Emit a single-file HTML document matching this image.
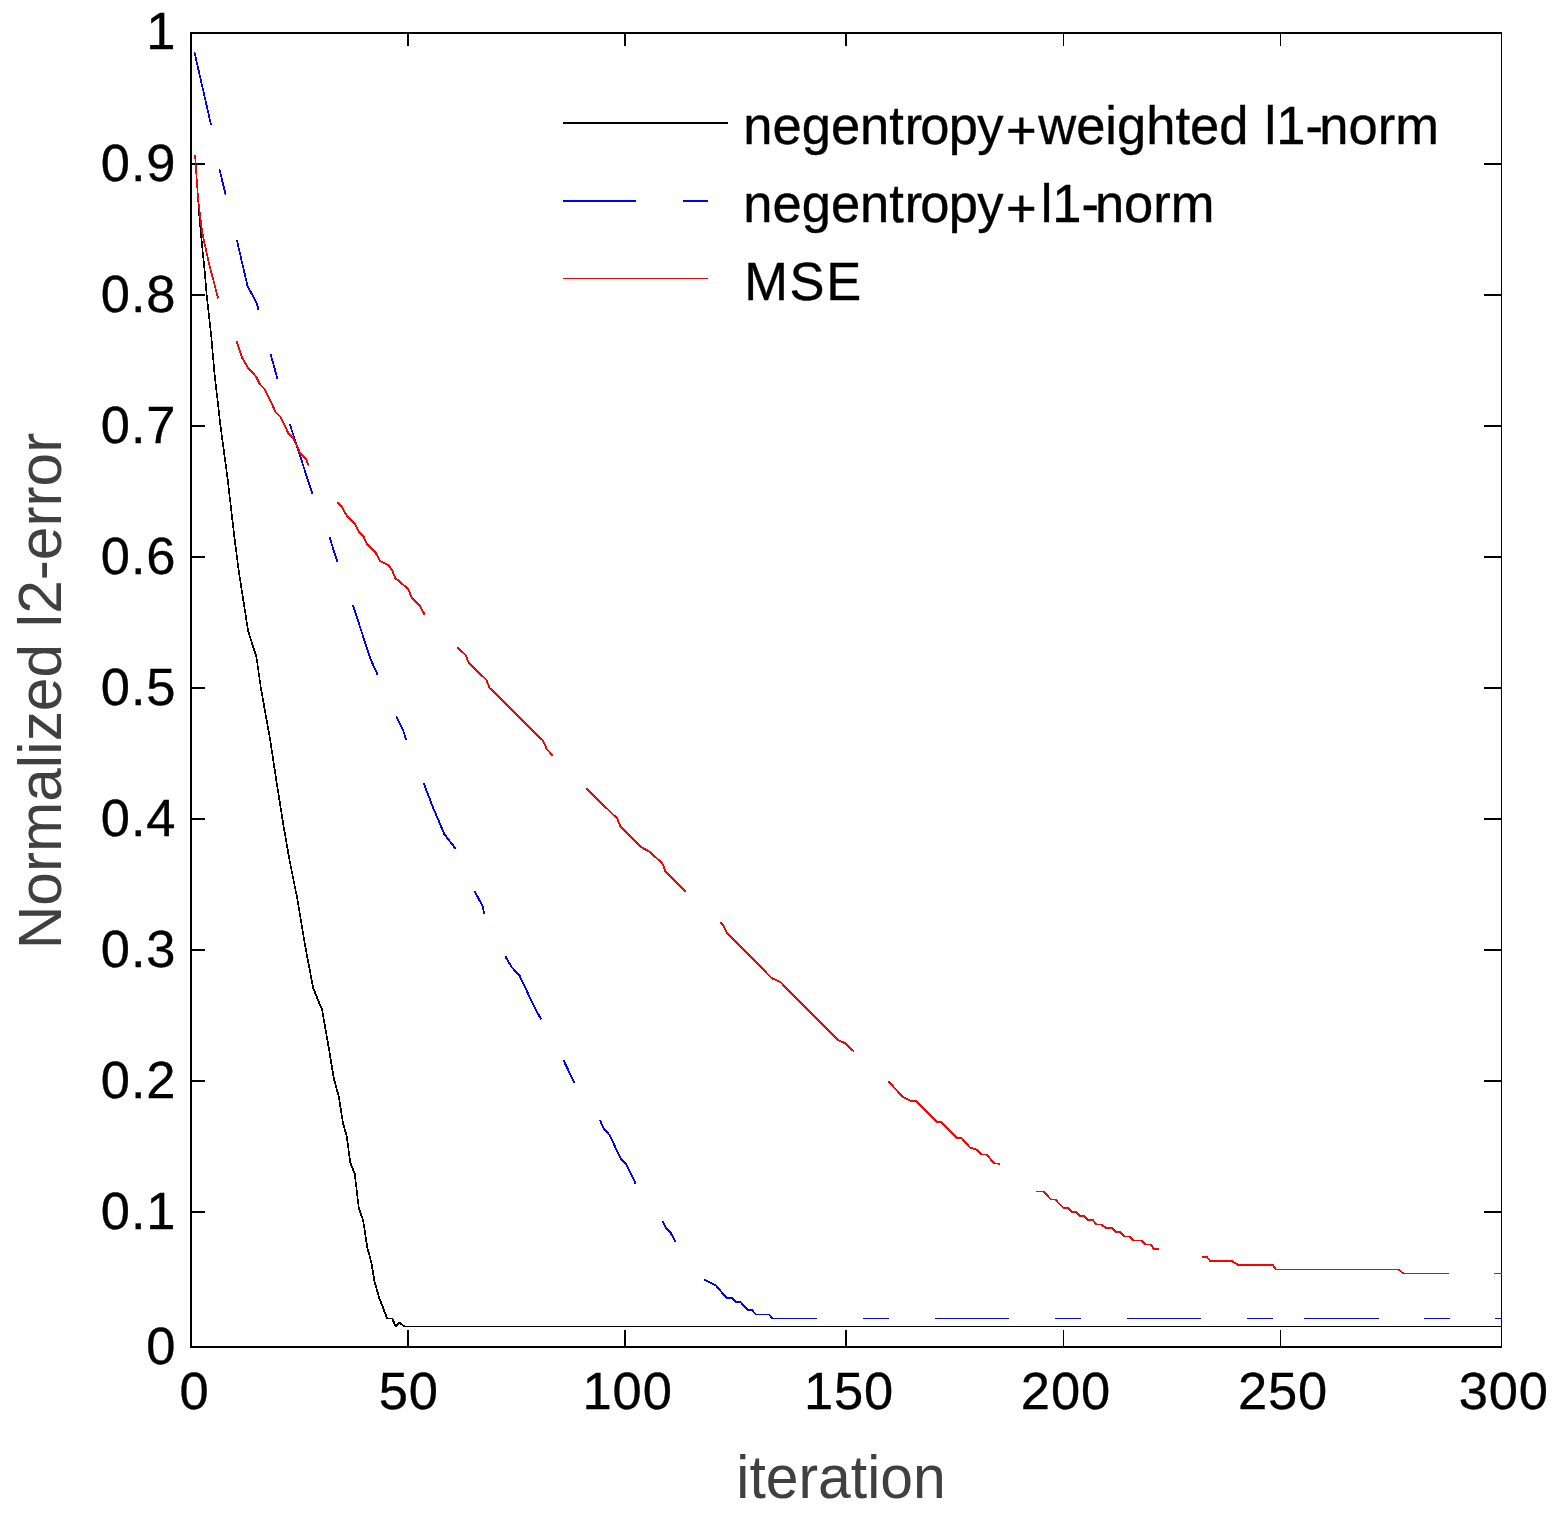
<!DOCTYPE html>
<html lang="en"><head><meta charset="utf-8"><title>Normalized l2-error vs iteration</title>
<style>
html,body{margin:0;padding:0;background:#fff;}
body{width:1553px;height:1521px;overflow:hidden;}
svg{display:block;}
text{font-family:"Liberation Sans",sans-serif;font-kerning:none;font-variant-ligatures:none;}
.tk{font-size:52.5px;fill:#000;stroke:#000;stroke-width:0.35px;}
.nm{letter-spacing:0.85px;}
.lb{font-size:60px;fill:#404040;}
.ln{fill:none;stroke-linejoin:round;stroke-linecap:butt;}
</style></head><body>
<svg width="1553" height="1521" viewBox="0 0 1553 1521">
<rect x="0" y="0" width="1553" height="1521" fill="#fff"/>
<g shape-rendering="crispEdges" fill="#000" stroke="none">
<rect x="190" y="32" width="2" height="1316"/>
<rect x="190" y="32" width="1312" height="2"/>
<rect x="1501" y="32" width="1" height="1316"/>
<rect x="190" y="1346" width="1312" height="2"/>
<rect x="192" y="163" width="13" height="2"/>
<rect x="1484" y="163" width="17" height="2"/>
<rect x="192" y="294" width="13" height="2"/>
<rect x="1484" y="294" width="17" height="2"/>
<rect x="192" y="425" width="13" height="2"/>
<rect x="1484" y="425" width="17" height="2"/>
<rect x="192" y="556" width="13" height="2"/>
<rect x="1484" y="556" width="17" height="2"/>
<rect x="192" y="687" width="13" height="2"/>
<rect x="1484" y="687" width="17" height="2"/>
<rect x="192" y="818" width="13" height="2"/>
<rect x="1484" y="818" width="17" height="2"/>
<rect x="192" y="949" width="13" height="2"/>
<rect x="1484" y="949" width="17" height="2"/>
<rect x="192" y="1080" width="13" height="2"/>
<rect x="1484" y="1080" width="17" height="2"/>
<rect x="192" y="1211" width="13" height="2"/>
<rect x="1484" y="1211" width="17" height="2"/>
<rect x="407" y="1330" width="2" height="16"/>
<rect x="407" y="34" width="2" height="12"/>
<rect x="624" y="1330" width="2" height="16"/>
<rect x="624" y="34" width="2" height="12"/>
<rect x="845" y="1330" width="2" height="16"/>
<rect x="845" y="34" width="2" height="12"/>
<rect x="1063" y="1330" width="1" height="16"/>
<rect x="1063" y="34" width="1" height="12"/>
<rect x="1280" y="1330" width="1" height="16"/>
<rect x="1280" y="34" width="1" height="12"/>
</g>
<g shape-rendering="crispEdges" stroke="none">
<path fill="#000" d="M197 201h1v1h-1zM198 209h1v7h-1zM199 218h1v8h-1zM199 226h2v1h-2zM200 227h1v6h-1zM200 233h2v5h-2zM201 238h1v3h-1zM201 241h2v7h-2zM202 248h1v4h-1zM202 252h2v6h-2zM203 258h1v3h-1zM203 261h2v7h-2zM204 268h1v3h-1zM204 271h2v8h-2zM205 279h1v4h-1zM205 283h2v8h-2zM206 291h1v4h-1zM206 295h2v6h-2zM207 301h1v3h-1zM207 304h2v6h-2zM208 310h1v3h-1zM208 313h2v6h-2zM209 319h1v3h-1zM209 322h2v6h-2zM210 328h1v3h-1zM210 331h2v6h-2zM211 337h1v4h-1zM211 341h2v8h-2zM212 349h1v4h-1zM212 353h2v7h-2zM213 360h1v4h-1zM213 364h2v8h-2zM214 372h1v3h-1zM214 375h2v6h-2zM215 381h1v3h-1zM215 384h2v6h-2zM216 390h1v3h-1zM216 393h2v5h-2zM217 398h1v3h-1zM217 401h2v6h-2zM218 407h1v3h-1zM218 410h2v6h-2zM219 416h1v3h-1zM219 419h2v6h-2zM220 425h1v2h-1zM220 427h2v5h-2zM221 432h1v3h-1zM221 435h2v5h-2zM222 440h1v2h-1zM222 442h2v5h-2zM223 447h1v2h-1zM223 449h2v6h-2zM224 455h1v2h-1zM224 457h2v5h-2zM225 462h1v2h-1zM225 464h2v5h-2zM226 469h1v3h-1zM226 472h2v5h-2zM227 477h1v2h-1zM227 479h2v6h-2zM228 485h1v3h-1zM228 488h2v6h-2zM229 494h1v3h-1zM229 497h2v5h-2zM230 502h1v3h-1zM230 505h2v6h-2zM231 511h1v3h-1zM231 514h2v6h-2zM232 520h1v2h-1zM232 522h2v6h-2zM233 528h1v3h-1zM233 531h2v6h-2zM234 537h1v2h-1zM234 539h2v6h-2zM235 545h1v2h-1zM235 547h2v5h-2zM236 552h1v3h-1zM236 555h2v5h-2zM237 560h1v3h-1zM237 563h2v5h-2zM238 568h1v2h-1zM238 570h2v5h-2zM239 575h1v2h-1zM239 577h2v4h-2zM240 581h1v2h-1zM240 583h2v5h-2zM241 588h1v2h-1zM241 590h2v4h-2zM242 594h1v2h-1zM242 596h2v5h-2zM243 601h1v1h-1zM243 602h2v5h-2zM244 607h1v2h-1zM244 609h2v4h-2zM245 613h1v2h-1zM245 615h2v5h-2zM246 620h1v2h-1zM246 622h2v4h-2zM247 626h1v2h-1zM247 628h2v4h-2zM248 632h2v3h-2zM249 635h1v1h-1zM249 636h2v2h-2zM250 638h1v1h-1zM250 639h2v2h-2zM251 641h1v1h-1zM251 642h2v3h-2zM252 645h2v3h-2zM253 648h2v3h-2zM254 651h2v3h-2zM255 654h2v3h-2zM256 657h1v2h-1zM256 659h2v4h-2zM257 663h1v3h-1zM257 666h2v4h-2zM258 670h1v3h-1zM258 673h2v4h-2zM259 677h1v3h-1zM259 680h2v4h-2zM260 684h1v3h-1zM260 687h2v4h-2zM261 691h1v1h-1zM261 692h2v4h-2zM262 696h1v2h-1zM262 698h2v4h-2zM263 702h1v1h-1zM263 703h2v5h-2zM264 708h1v1h-1zM264 709h2v4h-2zM265 713h1v2h-1zM265 715h2v4h-2zM266 719h1v1h-1zM266 720h2v4h-2zM267 724h1v2h-1zM267 726h2v4h-2zM268 730h1v1h-1zM268 731h2v4h-2zM269 735h1v2h-1zM269 737h2v4h-2zM270 741h1v2h-1zM270 743h2v5h-2zM271 748h1v2h-1zM271 750h2v4h-2zM272 754h1v2h-1zM272 756h2v5h-2zM273 761h1v2h-1zM273 763h2v5h-2zM274 768h1v1h-1zM274 769h2v5h-2zM275 774h1v2h-1zM275 776h2v5h-2zM276 781h1v2h-1zM276 783h2v4h-2zM277 787h1v2h-1zM277 789h2v4h-2zM278 793h1v2h-1zM278 795h2v5h-2zM279 800h1v1h-1zM279 801h2v5h-2zM280 806h1v2h-1zM280 808h2v4h-2zM281 812h1v2h-1zM281 814h2v5h-2zM282 819h1v1h-1zM282 820h2v5h-2zM283 825h1v2h-1zM283 827h2v4h-2zM284 831h1v1h-1zM284 832h2v4h-2zM285 836h1v2h-1zM285 838h2v4h-2zM286 842h1v2h-1zM286 844h2v4h-2zM287 848h1v1h-1zM287 849h2v5h-2zM288 854h1v1h-1zM288 855h2v4h-2zM289 859h1v2h-1zM289 861h2v3h-2zM290 864h1v2h-1zM290 866h2v3h-2zM291 869h1v2h-1zM291 871h2v3h-2zM292 874h1v2h-1zM292 876h2v3h-2zM293 879h1v2h-1zM293 881h2v3h-2zM294 884h1v2h-1zM294 886h2v3h-2zM295 889h1v2h-1zM295 891h2v3h-2zM296 894h1v1h-1zM296 895h2v4h-2zM297 899h1v2h-1zM297 901h2v4h-2zM298 905h1v2h-1zM298 907h2v4h-2zM299 911h1v2h-1zM299 913h2v4h-2zM300 917h1v2h-1zM300 919h2v4h-2zM301 923h1v2h-1zM301 925h2v4h-2zM302 929h1v2h-1zM302 931h2v4h-2zM303 935h1v2h-1zM303 937h2v4h-2zM304 941h1v2h-1zM304 943h2v4h-2zM305 947h1v1h-1zM305 948h2v4h-2zM306 952h1v2h-1zM306 954h2v4h-2zM307 958h1v1h-1zM307 959h2v4h-2zM308 963h1v1h-1zM308 964h2v4h-2zM309 968h1v1h-1zM309 969h2v4h-2zM310 973h1v2h-1zM310 975h2v4h-2zM311 979h1v1h-1zM311 980h2v4h-2zM312 984h1v1h-1zM312 985h2v4h-2zM313 989h2v2h-2zM314 991h2v3h-2zM315 994h2v2h-2zM316 996h2v3h-2zM317 999h2v2h-2zM318 1001h2v3h-2zM319 1004h2v2h-2zM320 1006h2v2h-2zM321 1008h2v3h-2zM322 1011h1v2h-1zM322 1013h2v4h-2zM323 1017h1v2h-1zM323 1019h2v4h-2zM324 1023h1v1h-1zM324 1024h2v5h-2zM325 1029h1v1h-1zM325 1030h2v4h-2zM326 1034h1v2h-1zM326 1036h2v4h-2zM327 1040h1v1h-1zM327 1041h2v5h-2zM328 1046h1v1h-1zM328 1047h2v4h-2zM329 1051h1v2h-1zM329 1053h2v5h-2zM330 1058h1v1h-1zM330 1059h2v5h-2zM331 1064h1v1h-1zM331 1065h2v5h-2zM332 1070h1v1h-1zM332 1071h2v5h-2zM333 1076h1v1h-1zM333 1077h2v4h-2zM334 1081h2v3h-2zM335 1084h1v1h-1zM335 1085h2v3h-2zM336 1088h1v1h-1zM336 1089h2v3h-2zM337 1092h2v3h-2zM338 1095h1v1h-1zM338 1096h2v4h-2zM339 1100h1v2h-1zM339 1102h2v5h-2zM340 1107h1v1h-1zM340 1108h2v5h-2zM341 1113h1v2h-1zM341 1115h2v4h-2zM342 1119h1v2h-1zM342 1121h2v4h-2zM343 1125h2v3h-2zM344 1128h1v1h-1zM344 1129h2v3h-2zM345 1132h2v3h-2zM346 1135h1v1h-1zM346 1136h2v5h-2zM347 1141h1v2h-1zM347 1143h2v5h-2zM348 1148h1v3h-1zM348 1151h2v5h-2zM349 1156h1v2h-1zM349 1158h2v5h-2zM350 1163h2v3h-2zM351 1166h2v2h-2zM352 1168h2v3h-2zM353 1171h2v2h-2zM354 1173h2v6h-2zM355 1179h1v3h-1zM355 1182h2v5h-2zM356 1187h1v3h-1zM356 1190h2v6h-2zM357 1196h1v3h-1zM357 1199h2v5h-2zM358 1204h1v3h-1zM358 1207h2v3h-2zM359 1210h2v3h-2zM360 1213h2v3h-2zM361 1216h2v2h-2zM362 1218h1v1h-1zM362 1219h2v3h-2zM363 1222h1v2h-1zM363 1224h2v4h-2zM364 1228h1v2h-1zM364 1230h2v5h-2zM365 1235h1v2h-1zM365 1237h2v5h-2zM366 1242h1v1h-1zM366 1243h2v5h-2zM367 1248h1v1h-1zM367 1249h2v3h-2zM368 1252h2v3h-2zM369 1255h1v1h-1zM369 1256h2v3h-2zM370 1259h1v1h-1zM370 1260h2v3h-2zM371 1263h1v1h-1zM371 1264h2v5h-2zM372 1269h1v1h-1zM372 1270h2v5h-2zM373 1275h1v1h-1zM373 1276h2v5h-2zM374 1281h1v1h-1zM374 1282h2v3h-2zM375 1285h2v3h-2zM376 1288h1v1h-1zM376 1289h2v3h-2zM377 1292h2v3h-2zM378 1295h1v1h-1zM378 1296h2v3h-2zM379 1299h2v2h-2zM380 1301h2v3h-2zM381 1304h2v2h-2zM382 1306h2v3h-2zM383 1309h2v3h-2zM384 1312h2v2h-2zM385 1314h2v3h-2zM386 1317h2v1h-2zM386 1318h7v1h-7zM392 1319h2v2h-2zM392 1321h3v1h-3zM398 1322h3v1h-3zM393 1322h2v2h-2zM397 1323h5v1h-5zM394 1324h5v1h-5zM400 1324h3v1h-3zM394 1325h4v1h-4zM402 1325h3v1h-3zM403 1326h1099v1h-1099zM395 1326h2v1h-2z"/>
<path fill="#00f" d="M194 52h1v1h-1zM194 53h2v3h-2zM195 56h1v1h-1zM195 57h2v4h-2zM196 61h1v1h-1zM196 62h2v3h-2zM197 65h1v1h-1zM197 66h2v4h-2zM198 70h2v4h-2zM199 74h1v1h-1zM199 75h2v3h-2zM200 78h1v1h-1zM200 79h2v4h-2zM201 83h1v1h-1zM201 84h2v3h-2zM202 87h1v1h-1zM202 88h2v3h-2zM203 91h1v1h-1zM203 92h2v4h-2zM204 96h1v1h-1zM204 97h2v3h-2zM205 100h1v1h-1zM205 101h2v4h-2zM206 105h2v4h-2zM207 109h1v1h-1zM207 110h2v3h-2zM208 113h1v1h-1zM208 114h2v4h-2zM209 118h1v1h-1zM209 119h2v3h-2zM210 122h1v1h-1zM210 123h2v2h-2zM219 169h1v1h-1zM219 170h2v3h-2zM220 173h1v1h-1zM220 174h2v3h-2zM221 177h1v1h-1zM221 178h2v4h-2zM222 182h2v4h-2zM223 186h2v4h-2zM224 190h2v4h-2zM225 194h1v1h-1zM236 240h2v2h-2zM237 242h1v1h-1zM237 243h2v4h-2zM238 247h1v1h-1zM238 248h2v3h-2zM239 251h1v1h-1zM239 252h2v3h-2zM240 255h1v1h-1zM240 256h2v4h-2zM241 260h1v1h-1zM241 261h2v3h-2zM242 264h1v1h-1zM242 265h2v3h-2zM243 268h1v1h-1zM243 269h2v4h-2zM244 273h2v4h-2zM245 277h1v1h-1zM245 278h2v3h-2zM246 281h1v1h-1zM246 282h2v4h-2zM247 286h2v2h-2zM248 288h2v2h-2zM249 290h2v1h-2zM249 291h3v1h-3zM250 292h2v1h-2zM250 293h3v1h-3zM251 294h2v1h-2zM252 295h2v2h-2zM253 297h2v2h-2zM254 299h2v2h-2zM255 301h2v2h-2zM256 303h2v3h-2zM257 306h2v4h-2zM270 354h2v3h-2zM271 357h1v1h-1zM271 358h2v3h-2zM272 361h2v3h-2zM273 364h1v1h-1zM273 365h2v3h-2zM274 368h2v4h-2zM275 372h2v3h-2zM276 375h1v1h-1zM276 376h2v3h-2zM289 424h2v2h-2zM290 426h2v3h-2zM291 429h1v1h-1zM291 430h2v2h-2zM292 432h1v1h-1zM292 433h2v2h-2zM293 435h1v1h-1zM293 436h2v1h-2zM294 437h1v2h-1zM295 439h1v2h-1zM296 442h1v1h-1zM296 447h1v1h-1zM297 450h1v1h-1zM298 452h1v2h-1zM299 454h1v1h-1zM299 455h2v2h-2zM300 457h2v3h-2zM301 460h2v3h-2zM302 463h1v1h-1zM302 464h2v2h-2zM303 466h1v1h-1zM303 467h2v2h-2zM304 469h1v1h-1zM304 470h2v3h-2zM305 473h2v3h-2zM306 476h2v3h-2zM307 479h2v3h-2zM308 482h2v3h-2zM309 485h2v3h-2zM310 488h2v3h-2zM311 491h2v3h-2zM329 537h2v3h-2zM330 540h2v3h-2zM331 543h1v1h-1zM331 544h2v2h-2zM332 546h1v1h-1zM332 547h2v3h-2zM333 550h2v3h-2zM334 553h2v3h-2zM335 556h2v3h-2zM336 559h2v3h-2zM352 605h2v2h-2zM353 607h2v3h-2zM354 610h2v3h-2zM355 613h2v3h-2zM356 616h2v3h-2zM357 619h2v3h-2zM358 622h2v3h-2zM359 625h1v1h-1zM359 626h2v2h-2zM360 628h1v1h-1zM360 629h2v2h-2zM361 631h1v1h-1zM361 632h2v2h-2zM362 634h1v1h-1zM362 635h2v3h-2zM363 638h2v3h-2zM364 641h2v3h-2zM365 644h2v3h-2zM366 647h2v3h-2zM367 650h2v3h-2zM368 653h2v3h-2zM369 656h2v3h-2zM370 659h2v2h-2zM371 661h2v2h-2zM371 663h3v1h-3zM372 664h2v2h-2zM373 666h2v2h-2zM374 668h2v2h-2zM375 670h2v2h-2zM376 672h2v3h-2zM396 716h1v1h-1zM396 717h2v2h-2zM397 719h2v2h-2zM398 721h2v2h-2zM399 723h2v2h-2zM400 725h2v2h-2zM401 727h2v2h-2zM402 729h2v2h-2zM403 731h1v1h-1zM403 732h2v2h-2zM404 734h1v1h-1zM404 735h2v3h-2zM405 738h2v2h-2zM423 783h2v2h-2zM424 785h2v3h-2zM425 788h2v3h-2zM426 791h2v2h-2zM427 793h2v3h-2zM428 796h2v2h-2zM429 798h2v3h-2zM430 801h2v3h-2zM431 804h2v2h-2zM432 806h2v3h-2zM433 809h2v2h-2zM434 811h2v2h-2zM435 813h2v3h-2zM436 816h2v2h-2zM437 818h2v2h-2zM438 820h2v3h-2zM439 823h2v2h-2zM440 825h2v2h-2zM440 827h3v1h-3zM441 828h2v2h-2zM442 830h2v2h-2zM443 832h2v2h-2zM443 834h3v1h-3zM444 835h3v1h-3zM445 836h2v1h-2zM446 837h2v1h-2zM446 838h3v1h-3zM447 839h3v1h-3zM448 840h2v1h-2zM449 841h2v1h-2zM450 842h2v1h-2zM450 843h3v1h-3zM451 844h3v1h-3zM452 845h2v1h-2zM453 846h2v1h-2zM453 847h3v1h-3zM454 848h2v1h-2zM474 891h2v2h-2zM475 893h2v2h-2zM476 895h2v1h-2zM476 896h3v1h-3zM477 897h2v1h-2zM477 898h3v1h-3zM478 899h2v1h-2zM478 900h3v1h-3zM479 901h2v1h-2zM480 902h2v2h-2zM481 904h2v2h-2zM482 906h2v4h-2zM483 910h1v1h-1zM483 911h2v3h-2zM505 956h2v2h-2zM505 958h3v1h-3zM506 959h2v1h-2zM507 960h2v2h-2zM508 962h2v1h-2zM508 963h3v1h-3zM509 964h2v1h-2zM510 965h2v2h-2zM511 967h2v1h-2zM512 968h2v1h-2zM513 969h2v1h-2zM513 970h3v1h-3zM514 971h3v1h-3zM515 972h3v1h-3zM516 973h3v1h-3zM517 974h3v1h-3zM518 975h3v1h-3zM519 976h2v2h-2zM520 978h2v2h-2zM521 980h2v2h-2zM522 982h2v2h-2zM523 984h2v2h-2zM524 986h2v2h-2zM525 988h2v2h-2zM526 990h2v2h-2zM526 992h3v1h-3zM527 993h2v2h-2zM528 995h2v2h-2zM529 997h2v2h-2zM530 999h2v2h-2zM531 1001h2v2h-2zM532 1003h2v2h-2zM533 1005h2v2h-2zM534 1007h2v2h-2zM535 1009h2v2h-2zM536 1011h2v2h-2zM537 1013h2v1h-2zM537 1014h3v1h-3zM538 1015h2v1h-2zM538 1016h3v1h-3zM539 1017h2v1h-2zM540 1018h2v1h-2zM540 1019h1v1h-1zM563 1060h2v2h-2zM564 1062h2v2h-2zM564 1064h3v1h-3zM565 1065h2v1h-2zM565 1066h3v1h-3zM566 1067h2v1h-2zM566 1068h3v1h-3zM567 1069h2v2h-2zM568 1071h2v2h-2zM569 1073h2v2h-2zM570 1075h2v2h-2zM571 1077h2v2h-2zM572 1079h2v2h-2zM573 1081h2v2h-2zM599 1120h2v1h-2zM600 1121h2v3h-2zM601 1124h2v2h-2zM602 1126h2v2h-2zM603 1128h2v1h-2zM603 1129h3v1h-3zM604 1130h3v1h-3zM605 1131h3v1h-3zM606 1132h3v1h-3zM607 1133h2v1h-2zM608 1134h2v1h-2zM609 1135h2v2h-2zM610 1137h2v2h-2zM611 1139h2v2h-2zM612 1141h2v2h-2zM613 1143h2v2h-2zM613 1145h3v1h-3zM614 1146h2v2h-2zM615 1148h2v2h-2zM616 1150h2v2h-2zM617 1152h2v2h-2zM618 1154h2v2h-2zM619 1156h2v2h-2zM620 1158h2v1h-2zM620 1159h3v1h-3zM621 1160h3v1h-3zM622 1161h3v1h-3zM623 1162h3v1h-3zM624 1163h3v1h-3zM625 1164h2v1h-2zM626 1165h2v2h-2zM627 1167h2v2h-2zM628 1169h2v2h-2zM629 1171h2v2h-2zM630 1173h2v2h-2zM631 1175h2v2h-2zM632 1177h2v2h-2zM633 1179h2v2h-2zM634 1181h2v3h-2zM662 1221h2v2h-2zM663 1223h2v2h-2zM664 1225h2v2h-2zM665 1227h2v1h-2zM665 1228h3v1h-3zM666 1229h3v1h-3zM667 1230h3v1h-3zM668 1231h3v1h-3zM669 1232h3v1h-3zM670 1233h2v1h-2zM670 1234h3v1h-3zM671 1235h2v1h-2zM672 1236h2v2h-2zM673 1238h2v2h-2zM674 1240h2v2h-2zM704 1279h2v1h-2zM704 1280h4v1h-4zM706 1281h4v1h-4zM708 1282h4v1h-4zM710 1283h4v1h-4zM712 1284h4v1h-4zM714 1285h3v1h-3zM716 1286h2v1h-2zM716 1287h3v1h-3zM717 1288h3v1h-3zM718 1289h3v1h-3zM719 1290h2v1h-2zM720 1291h2v1h-2zM721 1292h2v1h-2zM721 1293h3v1h-3zM722 1294h3v1h-3zM723 1295h3v1h-3zM724 1296h3v1h-3zM725 1297h8v1h-8zM726 1298h8v1h-8zM732 1299h3v1h-3zM733 1300h3v1h-3zM734 1301h7v1h-7zM735 1302h7v1h-7zM741 1303h2v1h-2zM741 1304h3v1h-3zM742 1305h3v1h-3zM743 1306h3v1h-3zM744 1307h3v1h-3zM745 1308h3v1h-3zM746 1309h7v1h-7zM747 1310h7v1h-7zM752 1311h2v1h-2zM753 1312h2v1h-2zM754 1313h2v1h-2zM755 1314h15v1h-15zM769 1315h2v1h-2zM770 1316h2v1h-2zM770 1317h3v1h-3zM1424 1318h26v1h-26zM1304 1318h75v1h-75zM1055 1318h26v1h-26zM935 1318h74v1h-74zM771 1318h46v1h-46zM1247 1318h26v1h-26zM1127 1318h74v1h-74zM1495 1318h7v1h-7zM863 1318h26v1h-26z"/>
<path fill="#f00" d="M194 155h2v4h-2zM195 159h1v6h-1zM195 165h2v9h-2zM196 174h1v5h-1zM196 179h2v9h-2zM197 188h1v5h-1zM197 193h2v8h-2zM198 201h1v3h-1zM198 204h2v5h-2zM199 209h1v3h-1zM199 212h2v6h-2zM200 218h1v2h-1zM200 220h2v6h-2zM201 226h1v2h-1zM201 228h2v5h-2zM202 233h1v1h-1zM202 234h2v4h-2zM203 238h1v1h-1zM203 239h2v4h-2zM204 243h1v1h-1zM204 244h2v3h-2zM205 247h1v1h-1zM205 248h2v4h-2zM206 252h1v1h-1zM206 253h2v3h-2zM207 256h1v1h-1zM207 257h2v4h-2zM208 261h1v1h-1zM208 262h2v3h-2zM209 265h1v1h-1zM209 266h2v3h-2zM210 269h1v1h-1zM210 270h2v3h-2zM211 273h2v4h-2zM212 277h2v3h-2zM213 280h1v1h-1zM213 281h2v3h-2zM214 284h1v1h-1zM214 285h2v3h-2zM215 288h1v1h-1zM215 289h2v3h-2zM216 292h1v1h-1zM216 293h2v3h-2zM217 296h2v2h-2zM217 298h1v1h-1zM236 341h2v3h-2zM237 344h2v3h-2zM238 347h2v3h-2zM239 350h2v3h-2zM240 353h2v3h-2zM241 356h2v2h-2zM241 358h3v1h-3zM242 359h2v1h-2zM243 360h2v2h-2zM244 362h2v1h-2zM244 363h3v1h-3zM245 364h2v1h-2zM246 365h2v2h-2zM247 367h2v1h-2zM247 368h3v1h-3zM248 369h3v1h-3zM249 370h3v1h-3zM250 371h3v1h-3zM251 372h3v1h-3zM252 373h3v1h-3zM253 374h2v1h-2zM254 375h2v1h-2zM255 376h2v1h-2zM255 377h3v1h-3zM256 378h2v1h-2zM256 379h3v1h-3zM257 380h2v1h-2zM257 381h3v1h-3zM258 382h2v1h-2zM258 383h3v1h-3zM259 384h2v1h-2zM260 385h2v1h-2zM261 386h2v1h-2zM262 387h2v1h-2zM263 388h2v1h-2zM264 389h2v2h-2zM265 391h2v2h-2zM266 393h2v2h-2zM267 395h2v2h-2zM268 397h2v2h-2zM269 399h2v2h-2zM270 401h2v2h-2zM271 403h2v2h-2zM272 405h2v2h-2zM272 407h3v1h-3zM273 408h2v2h-2zM274 410h2v2h-2zM275 412h2v1h-2zM276 413h2v1h-2zM277 414h2v1h-2zM278 415h2v1h-2zM279 416h2v1h-2zM280 417h2v2h-2zM281 419h2v2h-2zM282 421h2v2h-2zM283 423h2v2h-2zM284 425h2v2h-2zM285 427h2v2h-2zM286 429h2v2h-2zM286 431h3v1h-3zM287 432h2v1h-2zM287 433h3v1h-3zM288 434h3v1h-3zM289 435h3v1h-3zM290 436h3v1h-3zM291 437h3v1h-3zM292 438h2v1h-2zM293 439h2v2h-2zM294 441h2v2h-2zM295 443h2v2h-2zM296 445h2v2h-2zM297 447h2v2h-2zM297 449h3v1h-3zM298 450h2v2h-2zM299 452h2v1h-2zM299 453h3v1h-3zM300 454h3v1h-3zM301 455h3v1h-3zM302 456h3v1h-3zM303 457h3v1h-3zM304 458h3v1h-3zM305 459h2v1h-2zM306 460h2v3h-2zM307 463h2v2h-2zM308 465h1v1h-1zM337 502h2v1h-2zM337 503h3v1h-3zM338 504h3v1h-3zM339 505h3v1h-3zM340 506h3v1h-3zM341 507h2v1h-2zM342 508h2v2h-2zM343 510h2v2h-2zM344 512h2v1h-2zM344 513h3v1h-3zM345 514h2v1h-2zM346 515h2v1h-2zM346 516h3v1h-3zM347 517h3v1h-3zM348 518h3v1h-3zM349 519h3v1h-3zM350 520h3v1h-3zM351 521h3v1h-3zM352 522h3v1h-3zM353 523h3v1h-3zM354 524h2v1h-2zM355 525h2v2h-2zM356 527h2v2h-2zM357 529h2v2h-2zM358 531h2v1h-2zM358 532h3v1h-3zM359 533h3v1h-3zM360 534h3v1h-3zM361 535h3v1h-3zM362 536h3v1h-3zM363 537h2v2h-2zM364 539h2v2h-2zM365 541h2v2h-2zM366 543h2v1h-2zM366 544h3v1h-3zM367 545h3v1h-3zM368 546h3v1h-3zM369 547h3v1h-3zM370 548h3v1h-3zM371 549h3v1h-3zM372 550h3v1h-3zM373 551h3v1h-3zM374 552h3v1h-3zM375 553h2v1h-2zM375 554h3v1h-3zM376 555h2v1h-2zM377 556h2v2h-2zM378 558h2v2h-2zM379 560h2v1h-2zM379 561h4v1h-4zM381 562h4v1h-4zM383 563h4v1h-4zM385 564h4v1h-4zM387 565h3v1h-3zM388 566h3v1h-3zM389 567h2v1h-2zM390 568h2v1h-2zM390 569h3v1h-3zM391 570h2v1h-2zM392 571h2v3h-2zM393 574h2v2h-2zM394 576h2v2h-2zM394 578h3v1h-3zM395 579h4v1h-4zM397 580h3v1h-3zM398 581h3v1h-3zM399 582h3v1h-3zM400 583h3v1h-3zM401 584h3v1h-3zM403 585h3v1h-3zM404 586h3v1h-3zM405 587h3v1h-3zM406 588h3v1h-3zM407 589h2v1h-2zM408 590h2v2h-2zM409 592h2v3h-2zM410 595h2v2h-2zM411 597h2v1h-2zM411 598h3v1h-3zM412 599h3v1h-3zM413 600h3v1h-3zM414 601h3v1h-3zM415 602h3v1h-3zM416 603h3v1h-3zM417 604h3v1h-3zM418 605h3v1h-3zM419 606h2v1h-2zM420 607h2v2h-2zM421 609h2v2h-2zM422 611h2v1h-2zM422 612h3v1h-3zM423 613h2v2h-2zM457 647h2v1h-2zM457 648h3v1h-3zM458 649h3v1h-3zM459 650h3v1h-3zM460 651h3v1h-3zM461 652h3v1h-3zM463 653h2v1h-2zM464 654h2v1h-2zM465 655h2v2h-2zM466 657h2v3h-2zM467 660h2v2h-2zM468 662h2v1h-2zM468 663h3v1h-3zM469 664h3v1h-3zM470 665h3v1h-3zM471 666h3v1h-3zM472 667h3v1h-3zM473 668h3v1h-3zM474 669h3v1h-3zM475 670h3v1h-3zM476 671h3v1h-3zM477 672h3v1h-3zM478 673h3v1h-3zM479 674h3v1h-3zM480 675h3v1h-3zM481 676h3v1h-3zM483 677h2v1h-2zM484 678h2v1h-2zM485 679h2v1h-2zM486 680h2v3h-2zM487 683h2v2h-2zM488 685h2v3h-2zM489 688h3v1h-3zM490 689h3v1h-3zM491 690h3v1h-3zM492 691h3v1h-3zM493 692h3v1h-3zM494 693h3v1h-3zM495 694h3v1h-3zM496 695h3v1h-3zM497 696h3v1h-3zM498 697h3v1h-3zM499 698h3v1h-3zM500 699h3v1h-3zM501 700h3v1h-3zM502 701h3v1h-3zM503 702h3v1h-3zM504 703h3v1h-3zM505 704h3v1h-3zM506 705h3v1h-3zM507 706h3v1h-3zM508 707h3v1h-3zM509 708h3v1h-3zM510 709h3v1h-3zM511 710h3v1h-3zM512 711h3v1h-3zM513 712h3v1h-3zM514 713h3v1h-3zM515 714h3v1h-3zM516 715h3v1h-3zM517 716h3v1h-3zM518 717h3v1h-3zM519 718h3v1h-3zM520 719h3v1h-3zM521 720h3v1h-3zM522 721h3v1h-3zM523 722h3v1h-3zM524 723h3v1h-3zM525 724h3v1h-3zM526 725h3v1h-3zM527 726h3v1h-3zM528 727h3v1h-3zM529 728h3v1h-3zM530 729h3v1h-3zM531 730h3v1h-3zM532 731h3v1h-3zM533 732h3v1h-3zM534 733h3v1h-3zM535 734h3v1h-3zM536 735h3v1h-3zM537 736h3v1h-3zM538 737h3v1h-3zM539 738h3v1h-3zM540 739h3v1h-3zM542 740h2v2h-2zM543 742h2v2h-2zM544 744h2v2h-2zM545 746h2v3h-2zM546 749h2v1h-2zM547 750h2v1h-2zM548 751h2v1h-2zM549 752h2v1h-2zM549 753h3v1h-3zM550 754h3v1h-3zM551 755h2v1h-2zM586 788h2v1h-2zM586 789h3v1h-3zM587 790h3v1h-3zM588 791h3v1h-3zM589 792h3v1h-3zM590 793h3v1h-3zM591 794h3v1h-3zM592 795h3v1h-3zM593 796h3v1h-3zM594 797h3v1h-3zM595 798h3v1h-3zM596 799h3v1h-3zM597 800h3v1h-3zM598 801h3v1h-3zM599 802h3v1h-3zM600 803h3v1h-3zM601 804h3v1h-3zM602 805h3v1h-3zM603 806h3v1h-3zM604 807h3v1h-3zM605 808h3v1h-3zM607 809h2v1h-2zM608 810h2v1h-2zM609 811h2v1h-2zM610 812h2v1h-2zM611 813h2v1h-2zM612 814h2v1h-2zM613 815h3v1h-3zM614 816h3v1h-3zM615 817h3v1h-3zM616 818h2v1h-2zM617 819h2v3h-2zM618 822h2v2h-2zM619 824h2v2h-2zM619 826h3v1h-3zM620 827h3v1h-3zM621 828h3v1h-3zM622 829h3v1h-3zM623 830h3v1h-3zM624 831h3v1h-3zM625 832h3v1h-3zM626 833h3v1h-3zM627 834h3v1h-3zM628 835h3v1h-3zM629 836h3v1h-3zM630 837h3v1h-3zM631 838h3v1h-3zM632 839h3v1h-3zM633 840h3v1h-3zM634 841h3v1h-3zM635 842h3v1h-3zM636 843h3v1h-3zM637 844h3v1h-3zM638 845h3v1h-3zM639 846h3v1h-3zM640 847h4v1h-4zM642 848h4v1h-4zM643 849h5v1h-5zM645 850h4v1h-4zM647 851h4v1h-4zM649 852h3v1h-3zM650 853h3v1h-3zM651 854h3v1h-3zM652 855h3v1h-3zM653 856h3v1h-3zM654 857h3v1h-3zM656 858h2v1h-2zM657 859h3v1h-3zM658 860h3v1h-3zM659 861h3v1h-3zM660 862h3v1h-3zM661 863h2v1h-2zM662 864h2v2h-2zM663 866h2v3h-2zM664 869h2v2h-2zM664 871h3v1h-3zM665 872h3v1h-3zM666 873h3v1h-3zM667 874h3v1h-3zM668 875h3v1h-3zM669 876h3v1h-3zM670 877h3v1h-3zM671 878h3v1h-3zM672 879h3v1h-3zM673 880h3v1h-3zM674 881h3v1h-3zM675 882h3v1h-3zM676 883h3v1h-3zM677 884h3v1h-3zM678 885h3v1h-3zM679 886h3v1h-3zM680 887h3v1h-3zM681 888h3v1h-3zM682 889h3v1h-3zM683 890h3v1h-3zM684 891h2v1h-2zM720 922h2v1h-2zM720 923h3v1h-3zM721 924h3v1h-3zM722 925h2v1h-2zM723 926h2v2h-2zM724 928h2v2h-2zM725 930h2v2h-2zM726 932h2v1h-2zM726 933h3v1h-3zM727 934h3v1h-3zM728 935h3v1h-3zM729 936h3v1h-3zM730 937h3v1h-3zM731 938h3v1h-3zM732 939h3v1h-3zM733 940h3v1h-3zM734 941h3v1h-3zM735 942h3v1h-3zM736 943h3v1h-3zM737 944h3v1h-3zM738 945h3v1h-3zM739 946h3v1h-3zM740 947h3v1h-3zM741 948h3v1h-3zM742 949h3v1h-3zM743 950h3v1h-3zM744 951h3v1h-3zM745 952h3v1h-3zM746 953h3v1h-3zM747 954h3v1h-3zM748 955h3v1h-3zM749 956h3v1h-3zM750 957h3v1h-3zM751 958h3v1h-3zM752 959h3v1h-3zM753 960h3v1h-3zM754 961h3v1h-3zM755 962h3v1h-3zM756 963h3v1h-3zM757 964h3v1h-3zM758 965h3v1h-3zM759 966h3v1h-3zM760 967h3v1h-3zM761 968h3v1h-3zM762 969h3v1h-3zM763 970h3v1h-3zM764 971h3v1h-3zM765 972h2v1h-2zM766 973h2v1h-2zM767 974h2v1h-2zM768 975h2v1h-2zM769 976h2v1h-2zM770 977h3v1h-3zM771 978h4v1h-4zM772 979h5v1h-5zM775 980h4v1h-4zM777 981h4v1h-4zM779 982h3v1h-3zM781 983h2v1h-2zM782 984h2v1h-2zM782 985h3v1h-3zM783 986h3v1h-3zM784 987h3v1h-3zM785 988h3v1h-3zM786 989h3v1h-3zM787 990h3v1h-3zM788 991h3v1h-3zM789 992h3v1h-3zM790 993h3v1h-3zM791 994h3v1h-3zM792 995h3v1h-3zM793 996h3v1h-3zM794 997h3v1h-3zM795 998h3v1h-3zM796 999h3v1h-3zM797 1000h3v1h-3zM798 1001h3v1h-3zM799 1002h3v1h-3zM800 1003h3v1h-3zM801 1004h3v1h-3zM802 1005h3v1h-3zM803 1006h3v1h-3zM804 1007h3v1h-3zM805 1008h3v1h-3zM806 1009h3v1h-3zM807 1010h3v1h-3zM808 1011h3v1h-3zM809 1012h3v1h-3zM810 1013h3v1h-3zM811 1014h3v1h-3zM812 1015h3v1h-3zM813 1016h3v1h-3zM814 1017h3v1h-3zM815 1018h3v1h-3zM816 1019h3v1h-3zM817 1020h3v1h-3zM818 1021h3v1h-3zM819 1022h3v1h-3zM820 1023h3v1h-3zM821 1024h3v1h-3zM822 1025h3v1h-3zM823 1026h3v1h-3zM824 1027h3v1h-3zM825 1028h3v1h-3zM826 1029h3v1h-3zM827 1030h3v1h-3zM828 1031h3v1h-3zM829 1032h3v1h-3zM830 1033h3v1h-3zM831 1034h3v1h-3zM832 1035h3v1h-3zM833 1036h3v1h-3zM834 1037h3v1h-3zM835 1038h3v1h-3zM836 1039h3v1h-3zM837 1040h4v1h-4zM839 1041h5v1h-5zM841 1042h5v1h-5zM843 1043h4v1h-4zM845 1044h3v1h-3zM846 1045h3v1h-3zM847 1046h3v1h-3zM848 1047h3v1h-3zM849 1048h3v1h-3zM850 1049h3v1h-3zM851 1050h3v1h-3zM853 1051h1v1h-1zM888 1081h2v1h-2zM888 1082h3v1h-3zM889 1083h3v1h-3zM890 1084h3v1h-3zM891 1085h3v1h-3zM892 1086h2v1h-2zM893 1087h2v1h-2zM894 1088h2v1h-2zM895 1089h2v1h-2zM896 1090h2v1h-2zM897 1091h2v1h-2zM897 1092h3v1h-3zM898 1093h3v1h-3zM899 1094h3v1h-3zM900 1095h3v1h-3zM901 1096h3v1h-3zM902 1097h4v1h-4zM904 1098h4v1h-4zM906 1099h4v1h-4zM908 1100h9v1h-9zM910 1101h8v1h-8zM916 1102h3v1h-3zM917 1103h3v1h-3zM918 1104h3v1h-3zM919 1105h3v1h-3zM920 1106h3v1h-3zM921 1107h3v1h-3zM922 1108h3v1h-3zM923 1109h3v1h-3zM924 1110h3v1h-3zM925 1111h3v1h-3zM926 1112h3v1h-3zM927 1113h3v1h-3zM928 1114h3v1h-3zM929 1115h3v1h-3zM930 1116h3v1h-3zM931 1117h3v1h-3zM932 1118h3v1h-3zM933 1119h3v1h-3zM934 1120h3v1h-3zM935 1121h7v1h-7zM936 1122h7v1h-7zM941 1123h3v1h-3zM942 1124h3v1h-3zM943 1125h3v1h-3zM944 1126h3v1h-3zM945 1127h3v1h-3zM946 1128h3v1h-3zM947 1129h3v1h-3zM948 1130h3v1h-3zM949 1131h3v1h-3zM950 1132h3v1h-3zM951 1133h3v1h-3zM952 1134h3v1h-3zM953 1135h3v1h-3zM954 1136h3v1h-3zM955 1137h7v1h-7zM956 1138h7v1h-7zM962 1139h2v1h-2zM962 1140h3v1h-3zM963 1141h3v1h-3zM964 1142h3v1h-3zM965 1143h3v1h-3zM966 1144h3v1h-3zM967 1145h2v1h-2zM968 1146h2v1h-2zM969 1147h4v1h-4zM970 1148h6v1h-6zM973 1149h5v1h-5zM976 1150h3v1h-3zM977 1151h3v1h-3zM978 1152h3v1h-3zM979 1153h3v1h-3zM980 1154h8v1h-8zM986 1155h3v1h-3zM987 1156h3v1h-3zM988 1157h2v1h-2zM989 1158h2v1h-2zM990 1159h2v1h-2zM990 1160h3v1h-3zM991 1161h3v1h-3zM992 1162h3v1h-3zM993 1163h7v1h-7zM998 1164h2v1h-2zM1036 1191h9v1h-9zM1043 1192h3v1h-3zM1044 1193h3v1h-3zM1045 1194h3v1h-3zM1046 1195h3v1h-3zM1047 1196h2v1h-2zM1048 1197h2v1h-2zM1049 1198h2v1h-2zM1050 1199h7v1h-7zM1055 1200h3v1h-3zM1056 1201h2v1h-2zM1057 1202h2v1h-2zM1058 1203h2v1h-2zM1059 1204h2v1h-2zM1060 1205h2v1h-2zM1061 1206h2v1h-2zM1062 1207h7v1h-7zM1063 1208h7v1h-7zM1068 1209h3v1h-3zM1069 1210h3v1h-3zM1070 1211h7v1h-7zM1071 1212h7v1h-7zM1076 1213h3v1h-3zM1077 1214h3v1h-3zM1078 1215h7v1h-7zM1079 1216h7v1h-7zM1084 1217h3v1h-3zM1085 1218h3v1h-3zM1086 1219h8v1h-8zM1087 1220h7v1h-7zM1093 1221h2v1h-2zM1094 1222h2v1h-2zM1094 1223h3v1h-3zM1095 1224h8v1h-8zM1101 1225h3v1h-3zM1102 1226h4v1h-4zM1104 1227h9v1h-9zM1105 1228h9v1h-9zM1112 1229h3v1h-3zM1113 1230h3v1h-3zM1114 1231h7v1h-7zM1115 1232h7v1h-7zM1120 1233h3v1h-3zM1121 1234h3v1h-3zM1122 1235h3v1h-3zM1123 1236h8v1h-8zM1129 1237h3v1h-3zM1130 1238h3v1h-3zM1131 1239h3v1h-3zM1132 1240h11v1h-11zM1141 1241h3v1h-3zM1142 1242h3v1h-3zM1143 1243h3v1h-3zM1144 1244h8v1h-8zM1150 1245h3v1h-3zM1151 1246h2v1h-2zM1152 1247h2v1h-2zM1152 1248h7v1h-7zM1153 1249h6v1h-6zM1202 1256h6v2h-6zM1207 1258h2v1h-2zM1208 1259h2v1h-2zM1209 1260h24v1h-24zM1209 1261h25v1h-25zM1232 1262h4v1h-4zM1234 1263h4v1h-4zM1236 1264h38v1h-38zM1237 1265h37v1h-37zM1273 1266h2v1h-2zM1273 1267h3v1h-3zM1274 1268h2v1h-2zM1275 1269h125v1h-125zM1398 1270h3v1h-3zM1400 1271h2v1h-2zM1401 1272h3v1h-3zM1494 1273h8v1h-8zM1402 1273h47v1h-47z"/>
</g>
<g shape-rendering="crispEdges" stroke="none">
<rect x="563" y="122" width="165" height="2" fill="#000"/>
<rect x="563" y="200" width="73" height="2" fill="#00f"/>
<rect x="683" y="200" width="25" height="2" fill="#00f"/>
<rect x="563" y="278" width="145" height="1" fill="#f00"/>
</g>
<text class="tk" transform="translate(743.3,144) scale(1,1.01)" dx="0 0 0 0 0 0 1 -2 -0.8 -0.7 2.5 1.6 0 0 0 0 0 0 0 1.6 0 0 0 -3.6 0 0 0" dy="0 0 0 0 0 0 0 0 0 0 5 -5">negentropy+weighted l1-norm</text>
<text class="tk" transform="translate(743.3,222.3) scale(1,1.01)" dx="0 0 0 0 0 0 1 -2 -0.8 -0.7 2.5 4 0 0 -4.1 0 0 0" dy="0 0 0 0 0 0 0 0 0 0 5 -5">negentropy+l1-norm</text>
<text class="tk" transform="translate(744.2,300) scale(1,1.01)" dx="0 1.6 1.6">MSE</text>
<text class="tk nm" text-anchor="end" x="176.2" y="49.4">1</text>
<text class="tk nm" text-anchor="end" x="176.4" y="180.9">0.9</text>
<text class="tk nm" text-anchor="end" x="176.4" y="311.9">0.8</text>
<text class="tk nm" text-anchor="end" x="176.4" y="442.9">0.7</text>
<text class="tk nm" text-anchor="end" x="176.4" y="573.9">0.6</text>
<text class="tk nm" text-anchor="end" x="176.4" y="704.9">0.5</text>
<text class="tk nm" text-anchor="end" x="176.4" y="835.9">0.4</text>
<text class="tk nm" text-anchor="end" x="176.4" y="966.9">0.3</text>
<text class="tk nm" text-anchor="end" x="176.4" y="1097.9">0.2</text>
<text class="tk nm" text-anchor="end" x="176.4" y="1228.9">0.1</text>
<text class="tk nm" text-anchor="end" x="176.2" y="1363.7">0</text>
<text class="tk nm" text-anchor="middle" x="194.62" y="1409.4">0</text>
<text class="tk nm" text-anchor="middle" x="408.82" y="1409.4">50</text>
<text class="tk nm" text-anchor="middle" x="627.62" y="1409.4">100</text>
<text class="tk nm" text-anchor="middle" x="849.02" y="1409.4">150</text>
<text class="tk nm" text-anchor="middle" x="1065.92" y="1409.4">200</text>
<text class="tk nm" text-anchor="middle" x="1283.02" y="1409.4">250</text>
<text class="tk nm" text-anchor="middle" x="1503.82" y="1409.4">300</text>
<text class="lb" text-anchor="middle" transform="translate(841,1497.8) scale(0.981,1.01)">iteration</text>
<text class="lb" text-anchor="middle" transform="translate(60.8,691) rotate(-90) scale(1.006,1.03)">Normalized l2-error</text>
</svg>
</body></html>
